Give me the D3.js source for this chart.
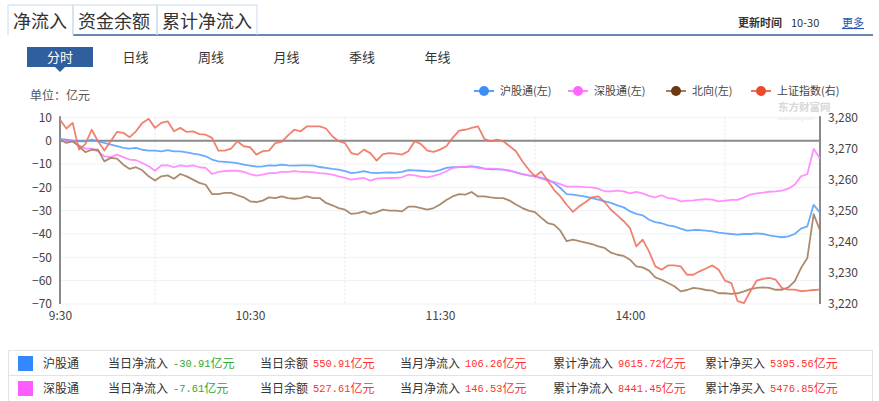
<!DOCTYPE html>
<html>
<head>
<meta charset="utf-8">
<script src="https://cdn.jsdelivr.net/npm/d3@7"></script>
<style>
  body { margin: 0; background: #fff; }
  svg text { font-family: "Noto Sans CJK SC", "Noto Sans", sans-serif; fill: #333; }
  svg text.num { font-family: "Liberation Mono", "DejaVu Sans Mono", monospace; }
  .tick text { font-size: 12px; fill: #444; }
</style>
</head>
<body>
<script>
// minutes since 9:30 (11:30 and 13:00 share index 120)
const times = d3.range(0, 241, 2);

// 沪股通 (left axis, 亿元)
const shgt = [0.7, 0.4, 0, -0.3, -0.3, 0.4, -0.3, -1, -1.7, -2.4, -3.1, -3.4, -3.1, -3.9, -4.3, -4.3, -4.6, -4.1, -4.6, -4.6,
  -5, -5.6, -6, -6.7, -8.1, -8.9, -9.1, -9.3, -9.6, -10.3, -10.7, -11.1, -11, -10.6, -10.7, -10.3, -10.6, -10.7, -10.6, -10.6,
  -10.7, -11.3, -11.7, -12.1, -12.4, -13.1, -13.9, -13.6, -13.1, -13.7, -13.9, -13.7, -13.6, -13.7, -13.4, -12.6, -12.7, -12.9, -13.1, -13.3,
  -12.6, -11.7, -11.4, -11.3, -11.3, -11, -11.4, -12, -12.3, -12.3, -12.4, -12.9, -13.6, -14.3, -14.9, -15.3, -16, -16.7, -18.1, -20.3,
  -22.9, -23.1, -23.6, -24, -24.6, -25.3, -26, -26.7, -27.7, -28.6, -30.3, -31.4, -32, -33.9, -34.9, -35.4, -36.3, -36.7, -37.7, -38.6,
  -38.3, -38.3, -38.6, -38.9, -39.4, -39.7, -40, -40.3, -40, -40, -39.7, -40, -40.6, -41, -41.4, -41, -40, -37.7, -36.7, -27.5, -30.91];

// 深股通 (left axis, 亿元)
const szgt = [0.4, -0.3, -0.3, -2, -3.4, -3.4, -4.6, -6.7, -7.1, -6, -7.1, -8.1, -8.4, -9.6, -11, -12.9, -10.6, -10.6, -11.4, -10.6,
  -11, -10.6, -11.4, -11.7, -14.3, -13.4, -13.1, -12.9, -12.9, -13.4, -14.3, -15, -14.6, -13.9, -13.9, -13.4, -13.4, -13.1, -13.4, -13.4,
  -13.6, -13.9, -14.1, -14.6, -15.3, -16, -16.7, -16.3, -16, -17.1, -16.3, -16.1, -16, -16, -15.7, -14.6, -14.9, -15.4, -15.7, -15.1,
  -14.3, -13.1, -11.7, -11.3, -11.1, -11, -11.7, -12, -12, -12.1, -12.4, -12.9, -13.6, -14.3, -14.9, -15.3, -16.3, -17.1, -17.7, -18.6,
  -19.7, -19.7, -19.7, -19.9, -20, -20.6, -21.7, -21.7, -21.4, -21.7, -22.6, -22, -22.6, -23.7, -24.3, -23.4, -24.6, -24.9, -26, -25.7,
  -25.6, -25.3, -25.1, -25.3, -26, -25.7, -25.4, -25.4, -24.3, -23.1, -22.6, -22.3, -21.9, -21.7, -21.4, -20.6, -18.9, -15.3, -14.3, -3.5, -7.61];

// 北向 (left axis, 亿元)
const north = [0.4, -1, -0.3, -2.4, -4.9, -3.9, -3.9, -8.9, -7.4, -7.7, -10.3, -12.1, -11.4, -12.7, -15.3, -17.1, -15.3, -14.9, -16.3, -14.3,
  -15.3, -16.7, -18.1, -18.9, -22.9, -22.9, -22.4, -22.4, -23.4, -24.3, -26, -26.3, -25.7, -24.3, -24.6, -23.9, -24.6, -24.9, -24.6, -23.9,
  -24.6, -24.6, -26.7, -27.7, -28.9, -29.6, -31.4, -31.1, -30.3, -31.4, -30.6, -29.6, -30, -30, -30.3, -28.3, -28.3, -28.9, -29.6, -28.9,
  -27.4, -25.4, -23.9, -22.9, -23.1, -22, -23.9, -23.9, -24.3, -24.6, -24.6, -25.7, -27.4, -28.9, -30, -30.6, -33.1, -35.3, -36, -38.6,
  -43.1, -42.4, -43.1, -43.7, -44.3, -45.3, -46, -48, -48.9, -49.4, -51, -53.9, -54.3, -55.7, -58.6, -59.6, -61, -62.4, -64.6, -64,
  -63.1, -63.4, -64, -64.3, -65.4, -65.4, -65.7, -65.4, -64.6, -63.6, -63.1, -62.9, -63.1, -63.9, -63.9, -62.9, -60.3, -54.6, -50.3, -31.5, -38.52];

// 上证指数 (right axis)
const shIndex = [3279.2, 3276.4, 3278.2, 3269.6, 3271.4, 3276, 3272.3, 3269.3, 3272.3, 3275.3, 3275, 3273.6, 3275.5, 3278.2, 3279.5, 3276.6, 3278.2, 3278.7, 3275.5, 3276.6,
  3275.3, 3275.5, 3274.6, 3274.4, 3273.4, 3269.3, 3269.3, 3269.9, 3272.3, 3270.7, 3270.4, 3268, 3269.1, 3269.3, 3271.7, 3272.1, 3274.2, 3276, 3275.5, 3277.1,
  3277.1, 3277.1, 3276.4, 3273.9, 3272.3, 3271.7, 3268.5, 3268, 3269.6, 3268.5, 3266.1, 3268.2, 3268.5, 3268.3, 3268, 3269.1, 3272.3, 3271.4, 3269.3, 3268.9,
  3269.6, 3270.7, 3273.4, 3275.7, 3276, 3276.6, 3277.1, 3273.1, 3272.3, 3272.8, 3272.3, 3270.7, 3269.1, 3265.9, 3263.2, 3261, 3262.6, 3259.6, 3256.7, 3254.6,
  3251.9, 3249.6, 3251.4, 3252.8, 3254.3, 3254.6, 3252.7, 3250.3, 3248.5, 3246.6, 3244.4, 3238.5, 3240.7, 3236.9, 3232.1, 3231, 3232.4, 3232.4, 3232.1, 3229.4,
  3229.4, 3230.5, 3231.4, 3232.4, 3231, 3227.5, 3226.7, 3220.9, 3220.3, 3224.1, 3227.5, 3228.1, 3228.4, 3227.8, 3225.1, 3224.6, 3224.6, 3224.1, 3224.3, 3224.5, 3224.6];

const leftTicks = [10, 0, -10, -20, -30, -40, -50, -60, -70];
const rightTicks = [3280, 3270, 3260, 3250, 3240, 3230, 3220];
const xTickMinutes = [0, 60, 120, 180];
const xTickLabels = ['9:30', '10:30', '11:30', '14:00'];
const gridMinutes = [30, 90, 150, 210];

const seriesNames = ['沪股通(左)', '深股通(左)', '北向(左)', '上证指数(右)'];
const seriesColors = ['#5aa2fb', '#ff84ff', '#a27e5e', '#f0735f'];
const legendDots = ['#3d8ff5', '#ff66ff', '#6b3a12', '#ea4a30'];

const tabs = ['净流入', '资金余额', '累计净流入'];
const periods = ['分时', '日线', '周线', '月线', '季线', '年线'];

const tableNames = ['沪股通', '深股通'];
const tableColors = ['#3388ff', '#ff5cff'];
const tableLabels = ['当日净流入', '当日余额', '当月净流入', '累计净流入', '累计净买入'];
const tableValues = [
  ['-30.91', '550.91', '106.26', '9615.72', '5395.56'],
  ['-7.61', '527.61', '146.53', '8441.45', '5476.85']
];

const W = 879, H = 401;
const svg = d3.select('body').append('svg').attr('width', W).attr('height', H);
svg.append('rect').attr('width', W).attr('height', H).attr('fill', '#fff');

// ---- header tabs
const tabX = [8, 73, 157, 257];
svg.append('line').attr('x1', 73).attr('x2', 873).attr('y1', 35).attr('y2', 35)
  .attr('stroke', '#2f5f9e').attr('stroke-width', 1.5);
tabs.forEach((t, i) => {
  svg.append('path')
    .attr('d', `M${tabX[i]},35V5H${tabX[i + 1]}V35`)
    .attr('fill', 'none').attr('stroke', '#c9dbec').attr('stroke-width', 1);
  svg.append('text').attr('x', tabX[i] + 5).attr('y', 28)
    .attr('font-size', 18).text(t);
});
svg.append('text').attr('x', 738).attr('y', 27).attr('font-size', 11)
  .attr('font-weight', 'bold').text('更新时间');
svg.append('text').attr('x', 791).attr('y', 27).attr('font-size', 11).text('10-30');
svg.append('text').attr('x', 842).attr('y', 27).attr('font-size', 11)
  .style('fill', '#2a55b0').attr('text-decoration', 'underline').text('更多');

// ---- period buttons
svg.append('rect').attr('x', 27).attr('y', 47).attr('width', 66).attr('height', 20).attr('fill', '#2f5f9e');
svg.append('path').attr('d', 'M55,67L60,72L65,67Z').attr('fill', '#2f5f9e');
periods.forEach((p, i) => {
  svg.append('text').attr('x', 60 + i * 75.5).attr('y', 62).attr('font-size', 13)
    .attr('text-anchor', 'middle').style('fill', i === 0 ? '#fff' : '#333').text(p);
});

svg.append('text').attr('x', 30).attr('y', 100).attr('font-size', 12).style('fill', '#555').text('单位：亿元');

// ---- legend
const legendX = [484, 578, 676, 761];
seriesNames.forEach((n, i) => {
  const g = svg.append('g').attr('transform', `translate(${legendX[i]},91)`);
  g.append('line').attr('x1', -10).attr('x2', 10).attr('stroke', seriesColors[i]).attr('stroke-width', 2);
  g.append('circle').attr('r', 5).attr('fill', legendDots[i]);
  g.append('text').attr('x', 16).attr('y', 4).attr('font-size', 11).style('fill', '#444').text(n);
});

// watermark
svg.append('text').attr('x', 778).attr('y', 110.5).attr('font-size', 10.5).attr('font-weight', 'bold')
  .style('fill', '#d8d8d8').text('东方财富网');
svg.append('text').attr('x', 778).attr('y', 119.5).attr('font-size', 5).style('fill', '#e2e2e2').text('eastmoney.com');

// ---- chart
const x = d3.scaleLinear().domain([0, 240]).range([60, 820]);
const yL = d3.scaleLinear().domain([-70, 10]).range([304, 117.3]);
const yR = d3.scaleLinear().domain([3220, 3280]).range([304, 117.3]);

svg.append('g').selectAll('line').data(leftTicks.filter(d => d !== 0)).join('line')
  .attr('x1', x(0)).attr('x2', x(240)).attr('y1', d => yL(d)).attr('y2', d => yL(d))
  .attr('stroke', '#edf1f6').attr('stroke-width', 1);
svg.append('g').selectAll('line').data(gridMinutes).join('line')
  .attr('x1', d => x(d)).attr('x2', d => x(d)).attr('y1', yL(10)).attr('y2', yL(-70))
  .attr('stroke', '#dfe7ef').attr('stroke-dasharray', '2,2');

svg.append('g').attr('class', 'axis').attr('transform', `translate(${x(0)},0)`)
  .call(d3.axisLeft(yL).tickValues(leftTicks).tickSize(0).tickPadding(8))
  .call(g => g.select('.domain').remove());
svg.append('g').attr('class', 'axis').attr('transform', `translate(${x(240)},0)`)
  .call(d3.axisRight(yR).tickValues(rightTicks).tickFormat(d3.format(',')).tickSize(0).tickPadding(8))
  .call(g => g.select('.domain').remove());
svg.append('g').attr('class', 'axis').attr('transform', `translate(0,${yL(-70)})`)
  .call(d3.axisBottom(x).tickValues(xTickMinutes).tickFormat((d, i) => xTickLabels[i]).tickSize(0).tickPadding(7))
  .call(g => g.select('.domain').remove());

svg.selectAll('.axis text').attr('font-size', 12);

[0, 240].forEach(m => {
  svg.append('line').attr('x1', x(m)).attr('x2', x(m)).attr('y1', yL(10) - 1).attr('y2', yL(-70))
    .attr('stroke', '#8a8a8a').attr('stroke-width', 2);
});
svg.append('line').attr('x1', x(0)).attr('x2', x(240)).attr('y1', yL(0)).attr('y2', yL(0))
  .attr('stroke', '#8a8a8a').attr('stroke-width', 2);

const lineL = d3.line().x((d, i) => x(times[i])).y(d => yL(d));
const lineR = d3.line().x((d, i) => x(times[i])).y(d => yR(d));
const plots = [[shgt, lineL], [szgt, lineL], [north, lineL], [shIndex, lineR]];
plots.forEach(([data, gen], i) => {
  svg.append('path').datum(data).attr('d', gen)
    .attr('fill', 'none').attr('stroke', seriesColors[i]).attr('stroke-width', 1.8)
    .attr('stroke-opacity', 0.9).attr('stroke-linejoin', 'round');
});

// ---- table
const table = svg.append('g');
table.append('rect').attr('x', 8.5).attr('y', 350.5).attr('width', 864).attr('height', 52)
  .attr('fill', 'none').attr('stroke', '#e3e3e3');
table.append('line').attr('x1', 8.5).attr('x2', 872.5).attr('y1', 375.5).attr('y2', 375.5).attr('stroke', '#e3e3e3');
const labelX = [108, 260, 400, 553, 705];
tableNames.forEach((n, r) => {
  const cy = 363 + r * 25;
  table.append('rect').attr('x', 18).attr('y', cy - 7).attr('width', 15).attr('height', 15).attr('fill', tableColors[r]);
  table.append('text').attr('x', 43).attr('y', cy + 4.5).attr('font-size', 12).text(n);
  tableLabels.forEach((l, c) => {
    table.append('text').attr('x', labelX[c]).attr('y', cy + 4.5).attr('font-size', 12).text(l);
    const v = tableValues[r][c];
    const col = v.startsWith('-') ? '#2ea82e' : '#ff3030';
    const vx = labelX[c] + l.length * 12 + 5;
    table.append('text').attr('class', 'num').attr('x', vx).attr('y', cy + 4).attr('font-size', 10.4)
      .style('fill', col).text(v);
    table.append('text').attr('x', vx + v.length * 6.25).attr('y', cy + 4.5).attr('font-size', 12)
      .style('fill', col).text('亿元');
  });
});
</script>
</body>
</html>
